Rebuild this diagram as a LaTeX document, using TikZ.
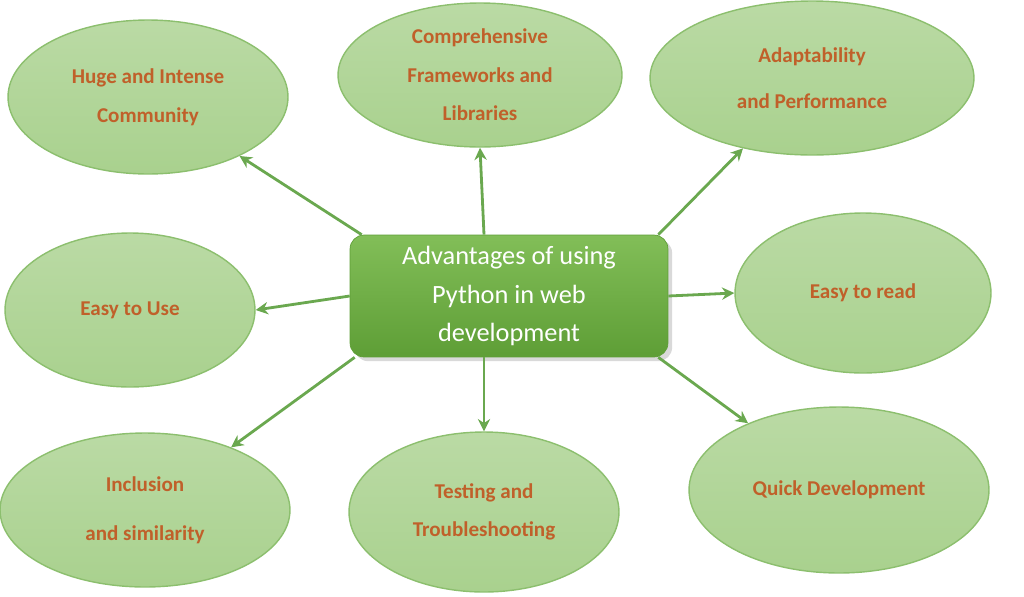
\documentclass[tikz,border=0pt]{standalone}
\usepackage{fontspec}
\setmainfont{Carlito}
\usetikzlibrary{shapes.geometric,arrows.meta,shadows}
\definecolor{ellfill}{HTML}{A9D18E}
\definecolor{elldraw}{HTML}{8CBF6E}
\definecolor{txt}{HTML}{C0602A}
\definecolor{boxtop}{HTML}{82BE58}
\definecolor{boxbot}{HTML}{5E9E36}
\definecolor{arr}{HTML}{6AA84F}
\tikzset{
  ell/.style={ellipse, draw=elldraw, line width=0.8pt, top color=ellfill!80, bottom color=ellfill, text=txt, font=\bfseries\fontsize{12}{22}\selectfont, align=center, inner sep=0pt},
  hub/.style={rounded corners=8pt, draw=boxbot, top color=boxtop, bottom color=boxbot, text=white, font=\fontsize{15}{22}\selectfont, align=center, minimum width=6.36cm, minimum height=2.44cm, drop shadow={opacity=0.3}},
  con/.style={draw=arr, line width=1.6pt, -{Stealth[length=7pt,width=7pt]}}
}
\begin{document}
\begin{tikzpicture}[x=0.02cm,y=-0.02cm]
\useasboundingbox (0,0) rectangle (1024,596);
\node[hub] (box) at (509,296) {Advantages of using\\Python in web\\development};
\node[ell, minimum width=5.6cm, minimum height=3.08cm] (e1) at (148,97) {Huge and Intense\\Community};
\node[ell, minimum width=5.68cm, minimum height=2.88cm] (e2) at (480,75) {Comprehensive\\Frameworks and\\Libraries};
\node[ell, minimum width=6.48cm, minimum height=3.08cm] (e3) at (812,78) {Adaptability\\[4pt]and Performance};
\node[ell, minimum width=5.0cm, minimum height=3.08cm] (e4) at (130,310) {Easy to Use};
\node[ell, minimum width=5.12cm, minimum height=3.2cm] (e5) at (863,293) {Easy to read};
\node[ell, minimum width=5.8cm, minimum height=3.08cm] (e6) at (145,510) {Inclusion\\[6pt]and similarity};
\node[ell, minimum width=5.4cm, minimum height=3.2cm] (e7) at (484,512) {Testing and\\Troubleshooting};
\node[ell, minimum width=6.0cm, minimum height=3.32cm] (e8) at (839,490) {Quick Development};
\draw[con] (box.north west) ++(12,0) coordinate (s1) -- (e1);
\draw[con] (box.north) ++(-25,0) coordinate (s2) -- (e2.south);
\draw[con] (box.north east) ++(-10,0) coordinate (s3) -- (e3);
\draw[con] (box.west) -- (e4.east);
\draw[con] (box.east) -- (e5.west);
\draw[con] (box.south west) ++(5,0) coordinate (s6) -- (e6);
\draw[con] (box.south) ++(-25,0) coordinate (s7) -- (e7.north);
\draw[con] (box.south east) ++(-10,0) coordinate (s8) -- (e8);
\end{tikzpicture}
\end{document}
